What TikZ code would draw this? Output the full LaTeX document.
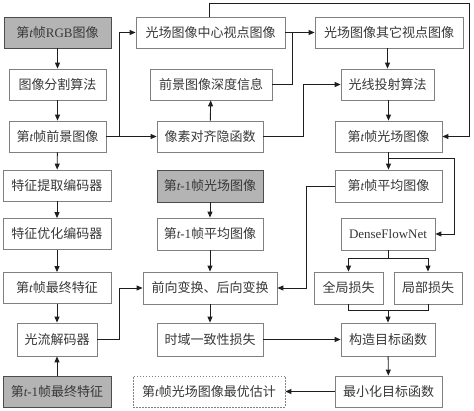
\documentclass[tikz,border=0pt]{standalone}
\usepackage{fontspec}
\setmainfont{Liberation Serif}
\newfontfamily\cjk{Noto Sans CJK SC}
\usetikzlibrary{arrows.meta}
\newcommand{\tvar}{{\rmfamily\itshape t}}
\newcommand{\latn}[1]{{\rmfamily #1}}
\definecolor{boxline}{HTML}{808080}
\definecolor{txt}{HTML}{383838}
\definecolor{grayfill}{HTML}{B4B4B4}
\definecolor{conn}{HTML}{1E1E1E}
\tikzset{
  bx/.style={draw=boxline, line width=0.8pt, fill=white, minimum height=31pt, inner sep=0pt,
    text=txt, font=\cjk\fontsize{13}{15}\selectfont},
  gbx/.style={bx, fill=grayfill, draw=black!70},
  dbx/.style={bx, dash pattern=on 1.5pt off 1.5pt},
  arr/.style={draw=conn, line width=0.9pt, -{Triangle[length=6pt,width=5pt]}},
  ln/.style={draw=conn, line width=0.9pt}
}
\begin{document}
\begin{tikzpicture}[x=1pt,y=-1pt]
\useasboundingbox (0,0) rectangle (474,411);
\fill[white] (0,0) rectangle (474,411);
% column 1
\node[gbx, minimum width=107pt] (a1) at (57.5,32.5) {第\tvar 帧\latn{RGB}图像};
\node[bx, minimum width=97pt] (a2) at (57.5,84.5) {图像分割算法};
\node[bx, minimum width=97pt] (a3) at (57.5,136.5) {第\tvar 帧前景图像};
\node[bx, minimum width=108pt] (a4) at (57,185.5) {特征提取编码器};
\node[bx, minimum width=108pt] (a5) at (57,234) {特征优化编码器};
\node[bx, minimum width=108pt] (a6) at (57,288) {第\tvar 帧最终特征};
\node[bx, minimum width=80pt, minimum height=33pt] (a7) at (57,339.5) {光流解码器};
\node[gbx, minimum width=108pt] (a8) at (57,391.5) {第\tvar\latn{-1}帧最终特征};
% column 2
\node[bx, minimum width=149pt] (b1) at (210.5,32.5) {光场图像中心视点图像};
\node[bx, minimum width=122pt] (b2) at (211,84.5) {前景图像深度信息};
\node[bx, minimum width=106pt] (b3) at (210,136.5) {像素对齐隐函数};
\node[gbx, minimum width=106pt, minimum height=32pt] (b4) at (210,186) {第\tvar\latn{-1}帧光场图像};
\node[bx, minimum width=106pt, minimum height=32pt] (b5) at (210,234) {第\tvar\latn{-1}帧平均图像};
\node[bx, minimum width=134pt, minimum height=32pt] (b6) at (210,288) {前向变换、后向变换};
\node[bx, minimum width=106pt, minimum height=33pt] (b7) at (210,339.5) {时域一致性损失};
\node[dbx, minimum width=152pt] (b8) at (209,391.5) {第\tvar 帧光场图像最优估计};
% column 3
\node[bx, minimum width=148pt] (c1) at (389,32.5) {光场图像其它视点图像};
\node[bx, minimum width=93pt] (c2) at (387.5,84.5) {光线投射算法};
\node[bx, minimum width=107pt] (c3) at (388.5,136.5) {第\tvar 帧光场图像};
\node[bx, minimum width=107pt, minimum height=32pt] (c4) at (388.5,186) {第\tvar 帧平均图像};
\node[bx, minimum width=94pt, minimum height=32pt] (c5) at (388,234) {\latn{DenseFlowNet}};
\node[bx, minimum width=69pt, minimum height=32pt] (c6) at (348.5,288) {全局损失};
\node[bx, minimum width=68pt, minimum height=32pt] (c7) at (428,288) {局部损失};
\node[bx, minimum width=94pt, minimum height=33pt] (c8) at (388,339.5) {构造目标函数};
\node[bx, minimum width=107pt] (c9) at (388.5,391.5) {最小化目标函数};
% bend coordinates
\coordinate (j1) at (119,136.5);
\coordinate (j2) at (292,84.5);
\coordinate (j3) at (303,136.5);
\coordinate (j4) at (388.5,158);
\coordinate (j5) at (454,158);
\coordinate (j6) at (306,186);
\coordinate (j7) at (388,258);
\coordinate (j8) at (388,310);
\coordinate (j9) at (119,339.5);
\coordinate (t1) at (209,3);
\coordinate (t2) at (469,3);
% column 1 chain
\draw[arr] (a1) -- (a2);
\draw[arr] (a2) -- (a3);
\draw[arr] (a3) -- (a4);
\draw[arr] (a4) -- (a5);
\draw[arr] (a5) -- (a6);
\draw[arr] (a6) -- (a7);
\draw[arr] (a8) -- (a7);
% foreground image branches
\draw[arr] (a3) -- (b3);
\draw[arr] (j1) |- (b1.west);
\draw[arr] (b3) -- (b2);
\draw[arr] (b1) -- (c1);
\draw[ln] (b2.east) -- (j2) -- (j2 |- c1.west);
\draw[arr] (b3.east) -- (j3) |- (c2.west);
% top loop
\draw[arr] (b1.north -| t1) -- (t1) -- (t2) |- (c3.east);
% column 3 chain
\draw[arr] (c1.south -| c2.north) -- (c2);
\draw[arr] (c2.south -| c3.north) -- (c3);
\draw[arr] (c3) -- (c4);
\draw[arr] (j4) -- (j5) |- (c5.east);
\draw[arr] (c4.west) -- (j6) |- (b6.east);
\draw[ln] (c5.south) -- (j7);
\draw[arr] (j7) -| (c6.north);
\draw[arr] (j7) -| (c7.north);
\draw[ln] (c6.south) |- (j8);
\draw[ln] (c7.south) |- (j8);
\draw[arr] (j8) -- (c8.north);
\draw[arr] (c8) -- (c9);
\draw[arr] (c9) -- (b8);
% column 2 chain
\draw[arr] (b4) -- (b5);
\draw[arr] (b5) -- (b6);
\draw[arr] (b6) -- (b7);
\draw[arr] (b7) -- (c8);
\draw[arr] (a7.east) -- (j9) |- (b6.west);
\end{tikzpicture}
\end{document}
